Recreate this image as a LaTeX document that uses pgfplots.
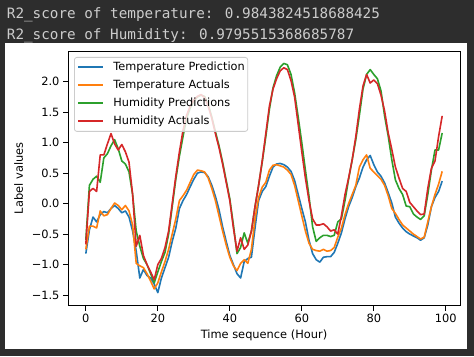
\documentclass[border=0pt]{standalone}
\usepackage{pgfplots}
\usepackage{pgfplotstable}
\pgfplotsset{compat=1.18}
\usepackage{fontspec}
\setmainfont{DejaVu Sans}
\newfontfamily\monofont{DejaVu Sans Mono}
\definecolor{bg}{HTML}{2D2D2D}
\definecolor{txt}{HTML}{CCCCCC}
\definecolor{mblue}{HTML}{1F77B4}
\definecolor{morange}{HTML}{FF7F0E}
\definecolor{mgreen}{HTML}{2CA02C}
\definecolor{mred}{HTML}{D62728}
\definecolor{legframe}{HTML}{CCCCCC}

\pgfplotstableread{
x tp ta hp ha
0 -0.82 -0.75 -0.60 -0.67
1 -0.43 -0.37 0.30 0.20
2 -0.22 -0.37 0.40 0.25
3 -0.30 -0.40 0.45 0.20
4 -0.18 -0.12 0.35 0.80
5 -0.13 -0.20 0.75 0.80
6 -0.15 -0.18 0.82 0.98
7 -0.08 -0.08 0.95 1.15
8 -0.03 0.01 1.05 0.98
9 -0.08 -0.03 0.90 0.88
10 -0.15 -0.10 0.70 0.97
11 -0.12 -0.03 0.65 0.85
12 -0.22 -0.12 0.52 0.68
13 -0.45 -0.35 0.15 0.15
14 -0.78 -0.98 -0.45 -0.70
15 -1.22 -1.02 -0.70 -0.52
16 -1.08 -1.05 -0.90 -0.85
17 -1.18 -1.15 -1.00 -1.00
18 -1.22 -1.27 -1.15 -1.12
19 -1.32 -1.40 -1.30 -1.25
20 -1.46 -1.30 -1.12 -1.00
21 -1.22 -1.12 -0.95 -0.90
22 -1.05 -0.95 -0.80 -0.72
23 -0.88 -0.75 -0.50 -0.45
24 -0.62 -0.50 -0.05 0.00
25 -0.40 -0.25 0.40 0.45
26 -0.08 0.05 0.78 0.85
27 0.05 0.13 1.10 1.20
28 0.15 0.22 1.40 1.45
29 0.28 0.35 1.57 1.60
30 0.40 0.48 1.68 1.70
31 0.50 0.55 1.75 1.76
32 0.52 0.54 1.78 1.79
33 0.51 0.52 1.76 1.74
34 0.44 0.42 1.63 1.60
35 0.30 0.25 1.42 1.40
36 0.12 0.05 1.18 1.15
37 -0.10 -0.20 0.95 0.92
38 -0.38 -0.45 0.68 0.65
39 -0.62 -0.68 0.38 0.35
40 -0.85 -0.88 0.08 0.05
41 -1.00 -1.02 -0.35 -0.40
42 -1.15 -1.10 -0.82 -0.78
43 -1.22 -0.98 -0.72 -0.56
44 -0.95 -0.92 -0.48 -0.75
45 -0.90 -0.98 -0.65 -0.68
46 -0.88 -0.75 -0.45 -0.45
47 -0.40 -0.25 -0.05 -0.05
48 0.05 0.10 0.30 0.30
49 0.20 0.27 0.68 0.70
50 0.28 0.35 1.10 1.15
51 0.45 0.55 1.55 1.60
52 0.60 0.63 1.90 1.88
53 0.65 0.64 2.10 2.05
54 0.66 0.62 2.24 2.18
55 0.64 0.60 2.30 2.23
56 0.60 0.55 2.28 2.20
57 0.53 0.48 2.12 2.02
58 0.38 0.30 1.82 1.75
59 0.15 0.05 1.42 1.30
60 -0.08 -0.20 1.00 0.85
61 -0.30 -0.45 0.55 0.42
62 -0.60 -0.65 0.12 0.05
63 -0.82 -0.75 -0.38 -0.25
64 -0.92 -0.77 -0.62 -0.35
65 -0.96 -0.78 -0.56 -0.35
66 -0.88 -0.75 -0.52 -0.33
67 -0.87 -0.78 -0.52 -0.38
68 -0.87 -0.77 -0.54 -0.45
69 -0.80 -0.72 -0.52 -0.43
70 -0.65 -0.55 -0.30 -0.50
71 -0.48 -0.40 -0.25 -0.20
72 -0.25 -0.18 0.05 0.15
73 -0.05 0.00 0.40 0.42
74 0.10 0.15 0.72 0.72
75 0.28 0.30 1.05 1.10
76 0.42 0.60 1.45 1.55
77 0.60 0.72 1.88 1.93
78 0.72 0.80 2.12 2.12
79 0.79 0.58 2.20 1.98
80 0.64 0.52 2.12 2.03
81 0.52 0.46 2.05 1.97
82 0.45 0.40 1.85 1.78
83 0.34 0.30 1.44 1.52
84 0.18 0.13 1.11 1.16
85 0.01 -0.08 0.72 0.89
86 -0.22 -0.16 0.39 0.60
87 -0.32 -0.26 0.25 0.42
88 -0.40 -0.35 0.15 0.25
89 -0.46 -0.40 -0.04 0.20
90 -0.50 -0.45 -0.05 0.02
91 -0.53 -0.50 -0.17 -0.05
92 -0.56 -0.54 -0.22 -0.12
93 -0.60 -0.58 -0.26 -0.18
94 -0.56 -0.55 -0.20 -0.17
95 -0.35 -0.30 0.15 0.25
96 -0.05 -0.05 0.55 0.58
97 0.10 0.15 0.88 0.70
98 0.20 0.32 0.88 1.10
99 0.37 0.53 1.16 1.44
}\datatable

\begin{document}
\begin{tikzpicture}[x=1bp,y=1bp]
\useasboundingbox (0,0) rectangle (474,356);
\fill[bg] (0,0) rectangle (474,356);
\fill[white] (5,7) rectangle (467,313.3);
\node[anchor=base west, inner sep=0pt, text=txt, font=\monofont\fontsize{14.3bp}{18bp}\selectfont] at (6.7,337.7) {R2\_score of temperature: 0.9843824518688425};
\node[anchor=base west, inner sep=0pt, text=txt, font=\monofont\fontsize{14.3bp}{18bp}\selectfont] at (6.7,316.7) {R2\_score of Humidity: 0.9795515368685787};
\begin{axis}[
  at={(68bp,50.3bp)}, anchor=south west,
  scale only axis, width=392bp, height=254.7bp,
  xmin=-4.95, xmax=103.95, ymin=-1.675, ymax=2.505,
  axis line style={line width=0.9bp, black},
  tick style={line width=0.9bp, black},
  tick align=outside, major tick length=5bp,
  xtick pos=lower, ytick pos=left,
  xtick={0,20,40,60,80,100},
  xticklabels={0,20,40,60,80,100},
  ytick={-1.5,-1,-0.5,0,0.5,1,1.5,2},
  yticklabels={−1.5,−1.0,−0.5,0.0,0.5,1.0,1.5,2.0},
  ticklabel style={font=\fontsize{11.4bp}{13bp}\selectfont},
  xlabel={Time sequence (Hour)}, ylabel={Label values},
  label style={font=\fontsize{11.4bp}{13bp}\selectfont},
  xlabel style={at={(axis description cs:0.5,-0.1307)}, anchor=base},
  ylabel style={at={(axis description cs:-0.1148,0.5)}, anchor=base},
  legend cell align=left,
  legend image code/.code={\draw[#1, line width=2bp] (0bp,0bp) -- (25bp,0bp);},
  legend style={at={(axis description cs:0,1)}, anchor=north west, xshift=6bp, yshift=-6bp,
    draw=legframe, line width=0.8bp, rounded corners=2.5bp, fill=white, fill opacity=0.8, text opacity=1,
    inner xsep=3bp, inner ysep=4.5bp, row sep=7bp, column sep=9bp,
    font=\fontsize{11.3bp}{13bp}\selectfont,
    nodes={inner sep=0pt, text height=8.5bp, text depth=2.5bp}},
]
\addplot[mblue, line width=1.6bp, line join=round] table[x=x, y=tp] {\datatable};
\addlegendentry{Temperature Prediction}
\addplot[morange, line width=1.6bp, line join=round] table[x=x, y=ta] {\datatable};
\addlegendentry{Temperature Actuals}
\addplot[mgreen, line width=1.6bp, line join=round] table[x=x, y=hp] {\datatable};
\addlegendentry{Humidity Predictions}
\addplot[mred, line width=1.6bp, line join=round] table[x=x, y=ha] {\datatable};
\addlegendentry{Humidity Actuals}
\end{axis}
\end{tikzpicture}
\end{document}
